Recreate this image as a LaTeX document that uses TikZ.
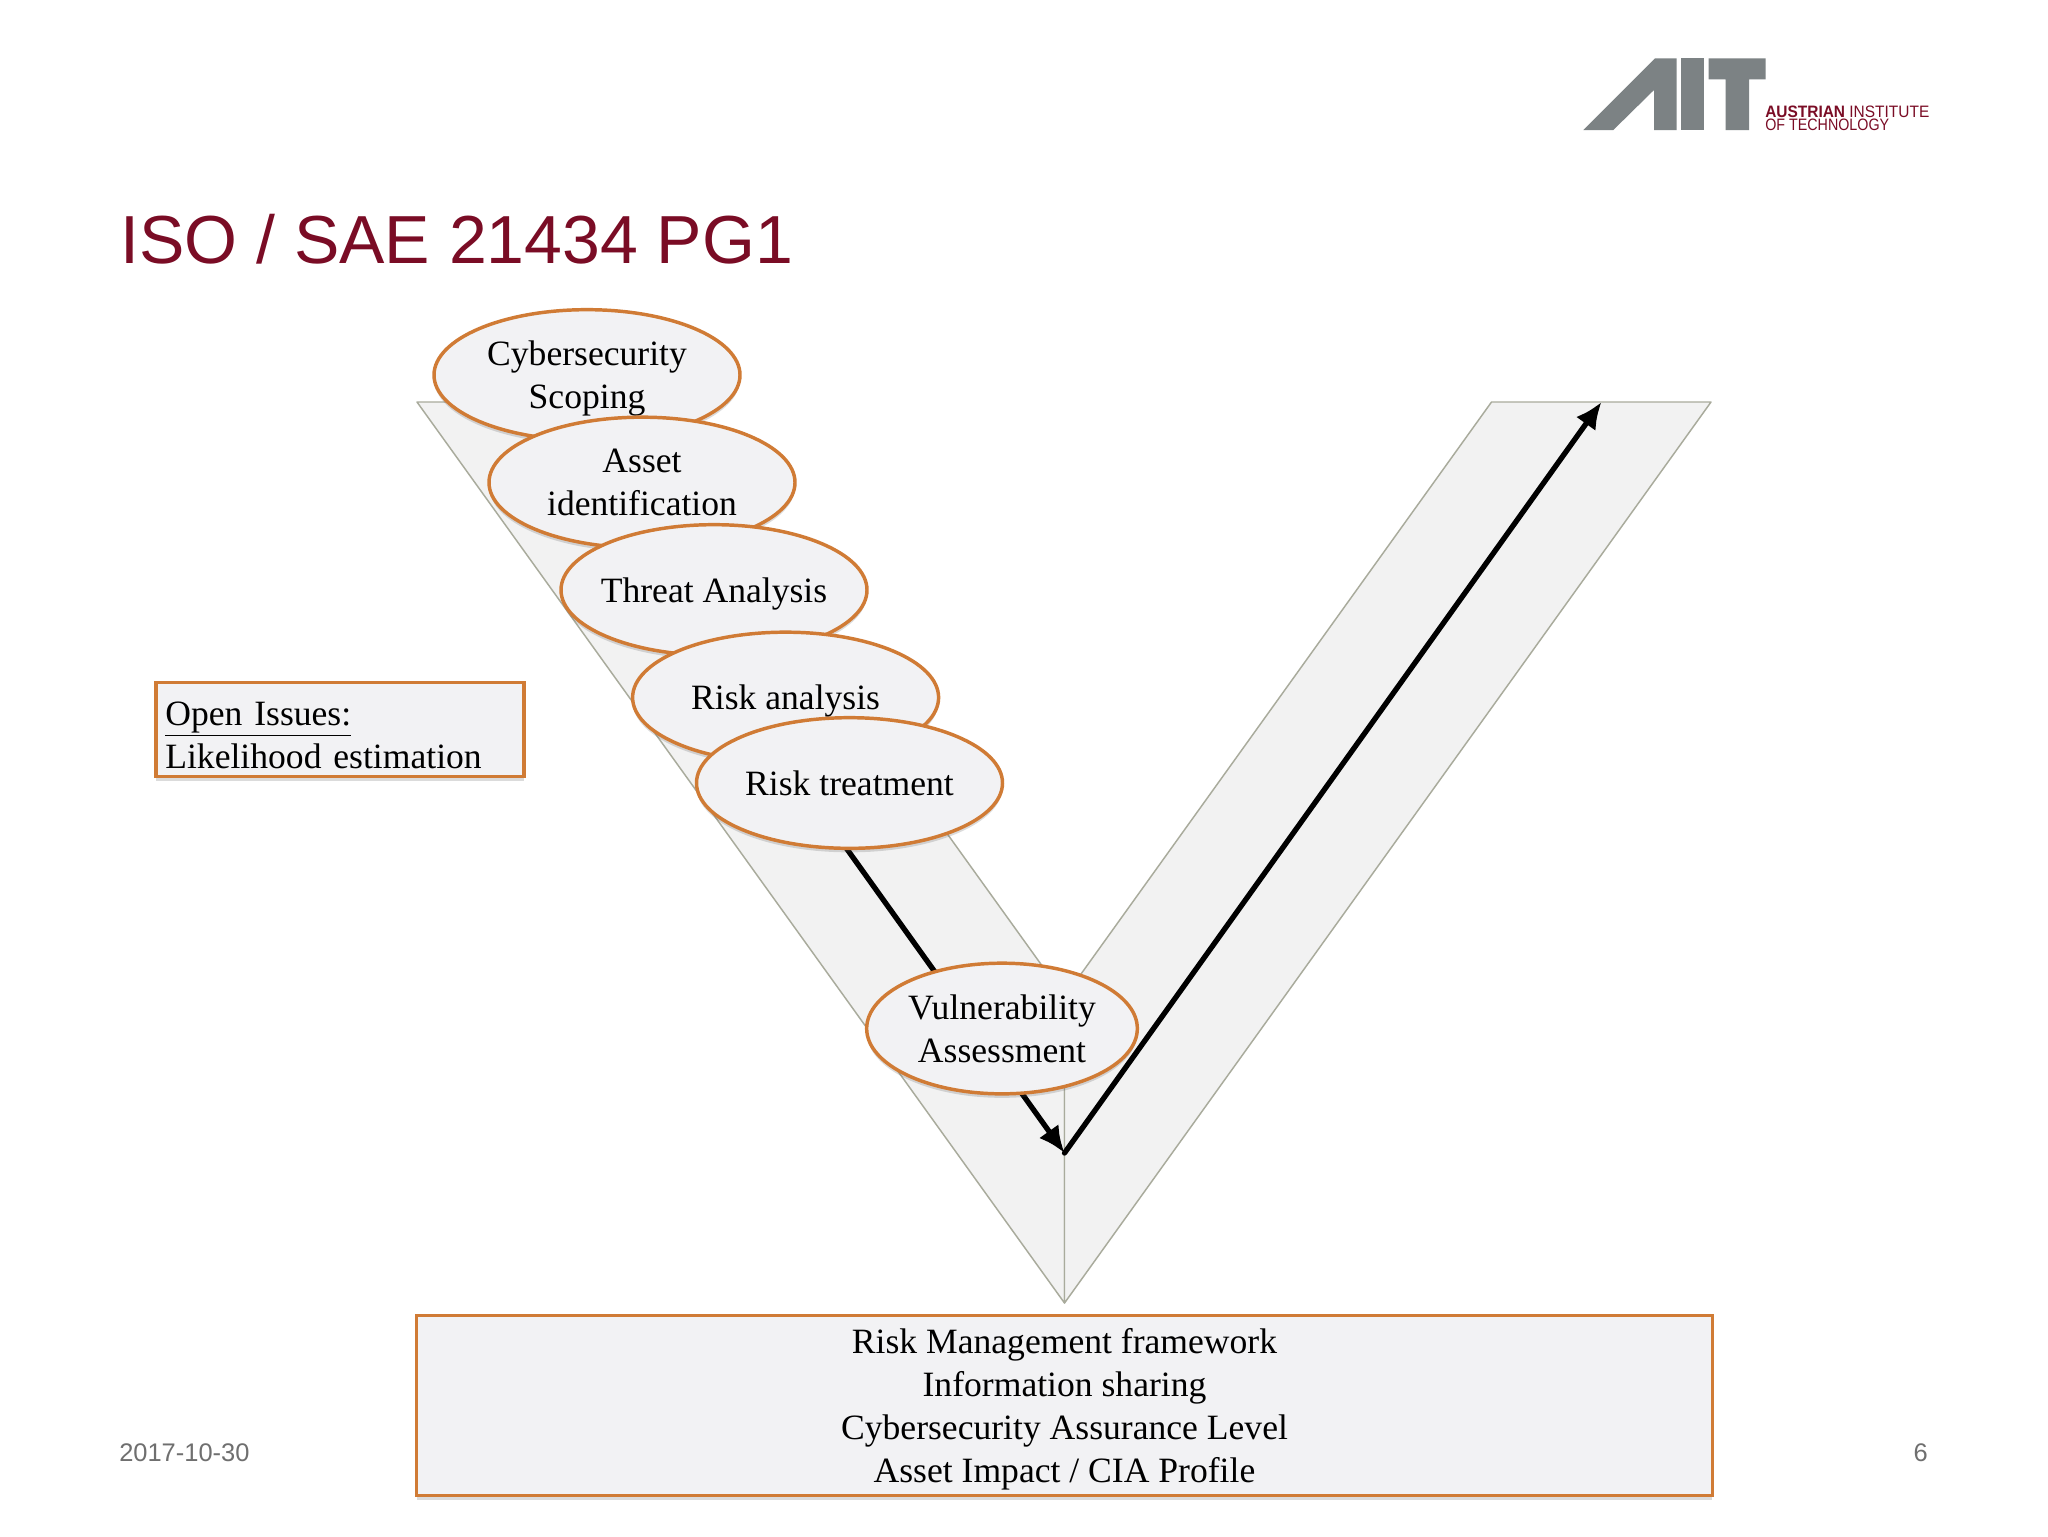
\documentclass[tikz,border=0pt]{standalone}
\usepackage{fontspec}
\setmainfont{Liberation Serif}
\newfontfamily\arialfont{Liberation Sans}
\usetikzlibrary{shapes.geometric,shadows,arrows.meta}
\definecolor{aitred}{HTML}{7A0C25}
\definecolor{aitgrey}{HTML}{7C8284}
\definecolor{boxfill}{HTML}{F2F2F4}
\definecolor{boxline}{HTML}{D07B35}
\definecolor{armfill}{HTML}{F2F2F2}
\definecolor{armline}{HTML}{A9AB9C}
\definecolor{footgrey}{HTML}{6F6F6F}
\newcommand{\nodepth}[1]{\raisebox{0pt}[\height][0pt]{#1}}
\tikzset{
  softshadow/.style={drop shadow={shadow xshift=0pt,shadow yshift=-3pt,opacity=.2,fill=black!70}},
  armshape/.style={fill=armfill,draw=armline,line width=1.1pt,line join=round},
  bubble/.style={ellipse,draw=boxline,fill=boxfill,line width=2.6pt,inner ysep=0pt,inner xsep=-30pt,
    minimum width=229.5pt,minimum height=98pt,align=center,font=\fontsize{26.7}{32.2}\selectfont,softshadow},
  bigbox/.style={rectangle,draw=boxline,fill=boxfill,line width=2.4pt,inner sep=0pt,softshadow},
  flowline/.style={line width=4pt,black,line cap=round},
  foot/.style={font=\arialfont\fontsize{19.1}{22}\selectfont,text=footgrey,inner sep=0pt},
  logotext/.style={font=\arialfont\fontsize{12.4}{12.4}\selectfont,text=aitred,inner sep=0pt,anchor=base west}
}
\begin{document}
\begin{tikzpicture}[x=0.75pt,y=-0.75pt]
\useasboundingbox (0,0) rectangle (2048,1536);
\fill[white] (0,0) rectangle (2048,1536);
% logo
\fill[aitgrey] (1583.3,130) -- (1655,58.3) -- (1676.7,58.3) -- (1676.7,130) -- (1654,130) -- (1654,90) -- (1613.3,130) -- cycle;
\fill[aitgrey] (1681,58.3) rectangle (1704.3,130);
\fill[aitgrey] (1708.7,58.3) -- (1765.7,58.3) -- (1765.7,79.3) -- (1749,79.3) -- (1749,130) -- (1725.7,130) -- (1725.7,79.3) -- (1708.7,79.3) -- cycle;
\node[logotext,xscale=.935] (logoa) at (1765,117.5) {\textbf{AUSTRIAN} INSTITUTE};
\node[logotext,xscale=.865] (logob) at (1765,130.3) {OF TECHNOLOGY};
% title
\node[font=\arialfont\fontsize{51}{55}\selectfont,text=aitred,inner sep=0pt,anchor=base west] (title) at (120,263) {ISO / SAE 21434 PG1};
% V
\fill[armshape] (417,402) -- (637,402) -- (1064.5,997) -- (1064.5,1303) -- cycle;
\fill[armshape] (1491.5,402) -- (1711,402) -- (1064.5,1303) -- (1064.5,997) -- cycle;
\coordinate (vtop) at (527,402);
\coordinate (vbottom) at (1064.5,1153);
\coordinate (vend) at (1601.5,402);
\draw[flowline,-{Latex[length=20pt,width=18pt]}] (vtop) -- (vbottom);
\draw[flowline,-{Latex[length=20pt,width=18pt]}] (vbottom) -- (vend);
% bubbles
\node[bubble] (cs) at (587,375) {Cybersecurity\\\nodepth{Scoping}};
\node[bubble] (ai) at (642,482.5) {Asset\\identification};
\node[bubble] (ta) at (714,590) {\nodepth{Threat Analysis}};
\node[bubble] (ra) at (785.6,697.5) {\nodepth{Risk analysis}};
\node[bubble] (rt) at (849.5,783) {Risk treatment};
\node[bubble,minimum width=203pt] (va) at (1002,1028.5) {Vulnerability\\Assessment};
% boxes
\node[bigbox,minimum width=276pt,minimum height=71pt,align=left,font=\fontsize{26.7}{32.2}\selectfont,text width=262pt] (oi) at (340,729.5) {\rule{0pt}{27pt}\underline{Open Issues:}\\Likelihood estimation};
\node[bigbox,minimum width=971.5pt,minimum height=135.5pt,align=center,font=\fontsize{26.7}{32.2}\selectfont] (rm) at (1064.5,1405.5) {\rule{0pt}{24.5pt}Risk Management framework\\Information sharing\\Cybersecurity Assurance Level\\Asset Impact / CIA Profile};
% footer
\node[foot,anchor=west] (date) at (119,1453) {2017-10-30};
\node[foot,anchor=east] (page) at (1928,1453) {6};
\end{tikzpicture}
\end{document}
